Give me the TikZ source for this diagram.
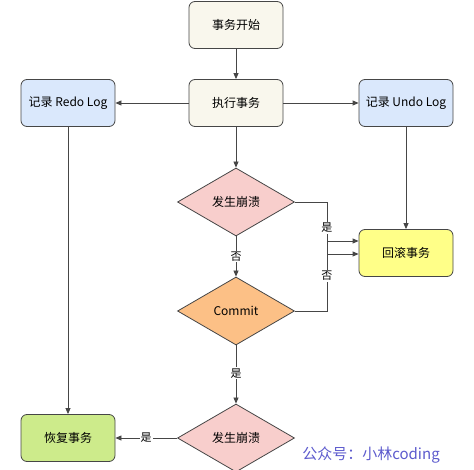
\documentclass[tikz,border=0pt]{standalone}
\usepackage{fontspec}
\setmainfont{Noto Sans CJK SC}
\usetikzlibrary{arrows.meta,shapes.geometric}
\definecolor{colbeige}{RGB}{249,247,237}
\definecolor{colblue}{RGB}{218,232,252}
\definecolor{colpink}{RGB}{248,206,204}
\definecolor{colorange}{RGB}{252,192,134}
\definecolor{colyellow}{RGB}{255,255,136}
\definecolor{colgreen}{RGB}{205,235,139}
\definecolor{colline}{RGB}{70,70,70}
\definecolor{colmark}{RGB}{92,90,205}
\tikzset{
  box/.style={
    rectangle,
    rounded corners=6pt,
    draw=colline,
    line width=0.8pt,
    minimum width=94pt,
    minimum height=47pt,
    font=\fontsize{12}{14}\selectfont
  },
  decision/.style={
    diamond,
    draw=colline,
    line width=0.8pt,
    minimum width=117pt,
    minimum height=68pt,
    inner sep=0pt,
    font=\fontsize{12}{14}\selectfont
  },
  flow/.style={-{Triangle[length=6pt,width=5pt]}, draw=colline, line width=0.8pt},
  yesno/.style={fill=white, inner sep=1pt, font=\fontsize{11}{13}\selectfont}
}

\begin{document}
\begin{tikzpicture}[x=1pt,y=-1pt]
  \useasboundingbox (0,0) rectangle (474,470);

  % The boxes
  \node[box, fill=colbeige] (start) at (236,25) {事务开始};
  \node[box, fill=colbeige] (exec) at (236,103) {执行事务};
  \node[box, fill=colblue] (redo) at (68,103) {记录 Redo Log};
  \node[box, fill=colblue] (undo) at (406,103) {记录 Undo Log};
  \node[box, fill=colyellow] (rollback) at (406,253) {回滚事务};
  \node[box, fill=colgreen] (recover) at (68,438) {恢复事务};

  % The decisions
  \node[decision, fill=colpink] (crashone) at (236,202) {发生崩溃};
  \node[decision, fill=colorange] (commit) at (236,311) {Commit};
  \node[decision, fill=colpink] (crashtwo) at (236,438) {发生崩溃};

  % Straight arrows
  \draw[flow] (start) -- (exec);
  \draw[flow] (exec) -- (redo);
  \draw[flow] (exec) -- (undo);
  \draw[flow] (exec) -- (crashone);
  \draw[flow] (redo) -- (recover);
  \draw[flow] (undo) -- (rollback);
  \draw[flow] (crashone) -- node[yesno] {否} (commit);
  \draw[flow] (commit) -- node[yesno, pos=0.48] {是} (crashtwo);
  \draw[flow] (crashtwo) -- node[yesno] {是} (recover);

  % Elbow arrows into the rollback box
  \draw[flow] (crashone.east) -- ++(32,0) |- node[yesno, pos=0.25] {是}
    ([yshift=-1pt]rollback.west);
  \draw[flow] (commit.east) -- ++(32,0) |- node[yesno, pos=0.25] {否}
    ([yshift=12pt]rollback.west);

  % Watermark
  \node[text=colmark, font=\fontsize{15}{17}\selectfont] (mark) at (371,455)
    {公众号：小林coding};
\end{tikzpicture}
\end{document}
